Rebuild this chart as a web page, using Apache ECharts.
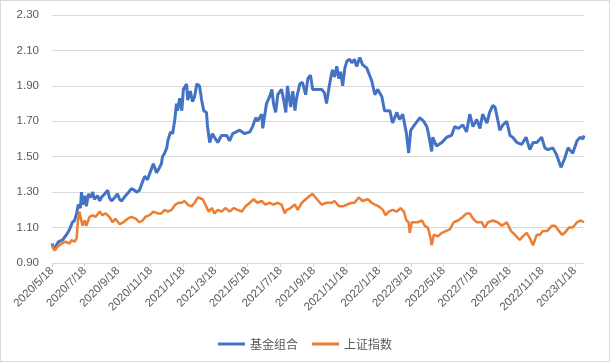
<!DOCTYPE html>
<html>
<head>
<meta charset="utf-8">
<script src="https://cdn.jsdelivr.net/npm/echarts@6/dist/echarts.min.js"></script>
<style>
html, body { margin: 0; padding: 0; background: #fff; }
#chart { width: 608px; height: 360px; border: 1px solid #d9d9d9; }
</style>
</head>
<body>
<div id="chart"></div>
<script>
// 基金组合 (fund portfolio)
const fundDates = [
  '2020/5/18', '2020/5/21', '2020/5/26', '2020/5/30', '2020/6/7', '2020/6/14', '2020/6/20', '2020/6/25',
  '2020/6/29', '2020/7/3', '2020/7/6', '2020/7/10', '2020/7/12', '2020/7/14', '2020/7/18', '2020/7/21',
  '2020/7/25', '2020/7/29', '2020/8/2', '2020/8/5', '2020/8/11', '2020/8/15', '2020/8/18', '2020/8/24',
  '2020/8/30', '2020/9/2', '2020/9/6', '2020/9/12', '2020/9/17', '2020/9/21', '2020/9/25', '2020/10/2',
  '2020/10/8', '2020/10/13', '2020/10/19', '2020/10/23', '2020/10/28', '2020/11/3', '2020/11/7', '2020/11/12',
  '2020/11/18', '2020/11/23', '2020/11/29', '2020/12/3', '2020/12/8', '2020/12/10', '2020/12/14', '2020/12/18',
  '2020/12/20', '2020/12/25', '2020/12/29', '2021/1/2', '2021/1/5', '2021/1/7', '2021/1/11', '2021/1/15',
  '2021/1/18', '2021/1/24', '2021/1/26', '2021/1/31', '2021/2/4', '2021/2/8', '2021/2/12', '2021/2/17',
  '2021/2/21', '2021/2/25', '2021/3/2', '2021/3/4', '2021/3/8', '2021/3/13', '2021/3/17', '2021/3/23',
  '2021/3/30', '2021/4/9', '2021/4/14', '2021/4/20', '2021/5/3', '2021/5/12', '2021/5/22', '2021/5/27',
  '2021/6/2', '2021/6/5', '2021/6/13', '2021/6/15', '2021/6/22', '2021/6/28', '2021/7/2', '2021/7/5',
  '2021/7/9', '2021/7/13', '2021/7/20', '2021/7/24', '2021/7/28', '2021/7/31', '2021/8/6', '2021/8/10',
  '2021/8/14', '2021/8/17', '2021/8/23', '2021/8/28', '2021/9/3', '2021/9/7', '2021/9/12', '2021/9/16',
  '2021/9/25', '2021/10/3', '2021/10/8', '2021/10/12', '2021/10/16', '2021/10/20', '2021/10/23', '2021/10/27',
  '2021/10/31', '2021/11/4', '2021/11/7', '2021/11/11', '2021/11/15', '2021/11/19', '2021/11/24', '2021/11/28',
  '2021/12/3', '2021/12/7', '2021/12/13', '2021/12/18', '2021/12/26', '2022/1/4', '2022/1/10', '2022/1/15',
  '2022/1/23', '2022/1/28', '2022/2/7', '2022/2/12', '2022/2/20', '2022/2/25', '2022/3/3', '2022/3/10',
  '2022/3/14', '2022/3/18', '2022/3/25', '2022/4/4', '2022/4/11', '2022/4/17', '2022/4/20', '2022/4/26',
  '2022/4/28', '2022/5/5', '2022/5/15', '2022/5/24', '2022/6/2', '2022/6/8', '2022/6/15', '2022/6/23',
  '2022/6/30', '2022/7/6', '2022/7/12', '2022/7/19', '2022/7/25', '2022/7/30', '2022/8/7', '2022/8/12',
  '2022/8/18', '2022/8/22', '2022/8/25', '2022/8/31', '2022/9/6', '2022/9/13', '2022/9/19', '2022/9/24',
  '2022/10/2', '2022/10/11', '2022/10/19', '2022/10/26', '2022/11/1', '2022/11/8', '2022/11/17', '2022/11/23',
  '2022/11/29', '2022/12/8', '2022/12/15', '2022/12/23', '2022/12/30', '2023/1/5', '2023/1/14', '2023/1/22',
  '2023/1/28', '2023/2/2', '2023/2/4'
];
const fundValues = [
  1.01, 0.98, 1.00, 1.02, 1.03, 1.06, 1.09, 1.13,
  1.14, 1.18, 1.23, 1.21, 1.30, 1.23, 1.28, 1.22,
  1.29, 1.27, 1.30, 1.26, 1.28, 1.25, 1.27, 1.29,
  1.31, 1.27, 1.25, 1.27, 1.29, 1.26, 1.25, 1.28,
  1.30, 1.32, 1.31, 1.30, 1.31, 1.36, 1.39, 1.37,
  1.42, 1.46, 1.41, 1.43, 1.46, 1.50, 1.52, 1.55,
  1.59, 1.64, 1.63, 1.71, 1.80, 1.76, 1.83, 1.76,
  1.88, 1.91, 1.82, 1.87, 1.81, 1.84, 1.91, 1.90,
  1.82, 1.76, 1.75, 1.67, 1.58, 1.63, 1.61, 1.58,
  1.62, 1.62, 1.59, 1.63, 1.65, 1.63, 1.64, 1.67,
  1.72, 1.70, 1.74, 1.66, 1.80, 1.84, 1.88, 1.80,
  1.75, 1.85, 1.88, 1.82, 1.75, 1.90, 1.78, 1.87,
  1.76, 1.83, 1.91, 1.92, 1.85, 1.94, 1.96, 1.88,
  1.88, 1.88, 1.86, 1.80, 1.88, 1.95, 1.99, 1.95,
  2.01, 1.94, 1.98, 1.90, 2.00, 2.04, 2.05, 2.03,
  2.05, 2.01, 2.06, 2.02, 2.00, 1.93, 1.85, 1.88,
  1.84, 1.76, 1.76, 1.69, 1.75, 1.71, 1.74, 1.63,
  1.52, 1.65, 1.68, 1.72, 1.70, 1.67, 1.63, 1.53,
  1.61, 1.56, 1.58, 1.61, 1.62, 1.67, 1.66, 1.68,
  1.64, 1.74, 1.67, 1.71, 1.66, 1.74, 1.69, 1.75,
  1.79, 1.78, 1.74, 1.65, 1.68, 1.70, 1.62, 1.61,
  1.58, 1.57, 1.61, 1.54, 1.58, 1.58, 1.61, 1.55,
  1.54, 1.55, 1.51, 1.44, 1.49, 1.55, 1.52, 1.59,
  1.61, 1.60, 1.62
];

// 上证指数 (Shanghai composite), normalised
const indexDates = [
  '2020/5/18', '2020/5/23', '2020/5/28', '2020/6/5', '2020/6/12', '2020/6/20', '2020/6/23', '2020/6/29',
  '2020/7/3', '2020/7/5', '2020/7/8', '2020/7/10', '2020/7/14', '2020/7/18', '2020/7/21', '2020/7/27',
  '2020/8/2', '2020/8/7', '2020/8/15', '2020/8/20', '2020/8/26', '2020/9/2', '2020/9/8', '2020/9/13',
  '2020/9/21', '2020/9/28', '2020/10/6', '2020/10/13', '2020/10/21', '2020/10/28', '2020/11/3', '2020/11/8',
  '2020/11/16', '2020/11/23', '2020/12/1', '2020/12/8', '2020/12/14', '2020/12/20', '2020/12/27', '2021/1/3',
  '2021/1/9', '2021/1/15', '2021/1/20', '2021/1/26', '2021/2/2', '2021/2/8', '2021/2/14', '2021/2/17',
  '2021/2/23', '2021/2/28', '2021/3/6', '2021/3/12', '2021/3/17', '2021/3/23', '2021/3/30', '2021/4/7',
  '2021/4/14', '2021/4/22', '2021/4/29', '2021/5/7', '2021/5/14', '2021/5/22', '2021/5/29', '2021/6/5',
  '2021/6/13', '2021/6/20', '2021/6/28', '2021/7/5', '2021/7/13', '2021/7/20', '2021/7/26', '2021/7/30',
  '2021/8/6', '2021/8/14', '2021/8/19', '2021/8/27', '2021/9/3', '2021/9/11', '2021/9/16', '2021/9/24',
  '2021/10/3', '2021/10/12', '2021/10/22', '2021/10/27', '2021/11/4', '2021/11/11', '2021/11/19', '2021/11/28',
  '2021/12/3', '2021/12/11', '2021/12/18', '2021/12/28', '2022/1/4', '2022/1/10', '2022/1/17', '2022/1/25',
  '2022/1/30', '2022/2/5', '2022/2/12', '2022/2/20', '2022/2/27', '2022/3/5', '2022/3/10', '2022/3/14',
  '2022/3/16', '2022/3/20', '2022/3/25', '2022/3/31', '2022/4/8', '2022/4/13', '2022/4/19', '2022/4/24',
  '2022/4/26', '2022/4/30', '2022/5/7', '2022/5/15', '2022/5/22', '2022/5/30', '2022/6/6', '2022/6/14',
  '2022/6/23', '2022/6/30', '2022/7/6', '2022/7/12', '2022/7/19', '2022/7/28', '2022/8/3', '2022/8/9',
  '2022/8/18', '2022/8/27', '2022/9/4', '2022/9/13', '2022/9/21', '2022/9/28', '2022/10/7', '2022/10/13',
  '2022/10/20', '2022/10/26', '2022/11/1', '2022/11/8', '2022/11/14', '2022/11/19', '2022/11/27', '2022/12/6',
  '2022/12/12', '2022/12/17', '2022/12/25', '2022/12/30', '2023/1/7', '2023/1/14', '2023/1/22', '2023/1/29',
  '2023/2/4'
];
const indexValues = [
  1.00, 0.97, 0.99, 1.01, 1.02, 1.01, 1.03, 1.02,
  1.04, 1.13, 1.19, 1.19, 1.11, 1.14, 1.11, 1.16,
  1.17, 1.16, 1.19, 1.17, 1.18, 1.16, 1.13, 1.15,
  1.12, 1.13, 1.15, 1.16, 1.15, 1.13, 1.14, 1.16,
  1.17, 1.19, 1.18, 1.18, 1.20, 1.19, 1.20, 1.23,
  1.24, 1.24, 1.25, 1.23, 1.22, 1.24, 1.27, 1.28,
  1.26, 1.23, 1.19, 1.21, 1.18, 1.20, 1.19, 1.21,
  1.19, 1.21, 1.20, 1.19, 1.22, 1.24, 1.26, 1.24,
  1.25, 1.23, 1.24, 1.23, 1.24, 1.23, 1.18, 1.20,
  1.21, 1.23, 1.20, 1.24, 1.26, 1.28, 1.29, 1.26,
  1.23, 1.24, 1.24, 1.25, 1.22, 1.22, 1.23, 1.24,
  1.24, 1.27, 1.25, 1.26, 1.24, 1.23, 1.22, 1.20,
  1.17, 1.19, 1.20, 1.19, 1.21, 1.19, 1.14, 1.13,
  1.07, 1.13, 1.13, 1.13, 1.14, 1.11, 1.10, 1.04,
  1.00, 1.06, 1.05, 1.07, 1.08, 1.09, 1.13, 1.14,
  1.16, 1.18, 1.18, 1.15, 1.13, 1.13, 1.10, 1.13,
  1.14, 1.13, 1.11, 1.13, 1.08, 1.06, 1.03, 1.05,
  1.07, 1.04, 1.00, 1.06, 1.06, 1.08, 1.08, 1.11,
  1.11, 1.09, 1.06, 1.07, 1.10, 1.10, 1.13, 1.14,
  1.13
];

const seriesNames = ['基金组合', '上证指数'];
const firstDay = '2020/5/18';
const lastDay = '2023/2/4';

function parseDay(s) {
    const p = s.split('/').map(Number);
    return Date.UTC(p[0], p[1] - 1, p[2]);
}
function dayLabel(t) {
    const d = new Date(t);
    return d.getUTCFullYear() + '/' + (d.getUTCMonth() + 1) + '/' + d.getUTCDate();
}

// one category per calendar day, like Excel's date axis
const days = [];
for (let t = parseDay(firstDay); t <= parseDay(lastDay); t += 86400000) days.push(dayLabel(t));
const dayIndex = {};
days.forEach((d, i) => { dayIndex[d] = i; });

function pairs(dates, values) {
    return dates.map((d, i) => [dayIndex[d], values[i]]);
}

// labels on the 18th of every other month
function isTickDay(idx, label) {
    const p = String(label).split('/');
    return p[2] === '18' && (+p[1]) % 2 === 1;
}

const chart = echarts.init(document.getElementById('chart'));
const axisFont = 'Liberation Sans, Arial, sans-serif';

chart.setOption({
    animation: false,
    grid: { left: 51, right: 25, top: 14, bottom: 98 },
    legend: {
        data: seriesNames,
        left: 'center',
        top: 332,
        icon: 'rect',
        itemWidth: 27,
        itemHeight: 3,
        itemGap: 14,
        textStyle: { color: '#595959', fontSize: 12, fontFamily: 'Noto Sans CJK SC' }
    },
    xAxis: {
        type: 'category',
        data: days,
        boundaryGap: false,
        axisLine: { lineStyle: { color: '#d9d9d9', width: 1 } },
        axisTick: { show: true, interval: isTickDay, length: 4, lineStyle: { color: '#d9d9d9' } },
        axisLabel: {
            interval: isTickDay,
            rotate: 45,
            margin: 6,
            color: '#595959',
            fontSize: 11.5,
            fontFamily: axisFont
        },
        splitLine: { show: false }
    },
    yAxis: {
        type: 'value',
        min: 0.9,
        max: 2.3,
        interval: 0.2,
        axisLine: { show: false },
        axisTick: { show: false },
        axisLabel: {
            margin: 13,
            color: '#595959',
            fontSize: 11.5,
            fontFamily: axisFont,
            formatter: v => v.toFixed(2)
        },
        splitLine: { lineStyle: { color: '#d9d9d9', width: 1 } }
    },
    series: [
        {
            name: seriesNames[0],
            type: 'line',
            data: pairs(fundDates, fundValues),
            showSymbol: false,
            color: '#4472C4',
            lineStyle: { width: 3, color: '#4472C4' }
        },
        {
            name: seriesNames[1],
            type: 'line',
            data: pairs(indexDates, indexValues),
            showSymbol: false,
            color: '#ED7D31',
            lineStyle: { width: 2.5, color: '#ED7D31' }
        }
    ]
});
</script>
</body>
</html>
